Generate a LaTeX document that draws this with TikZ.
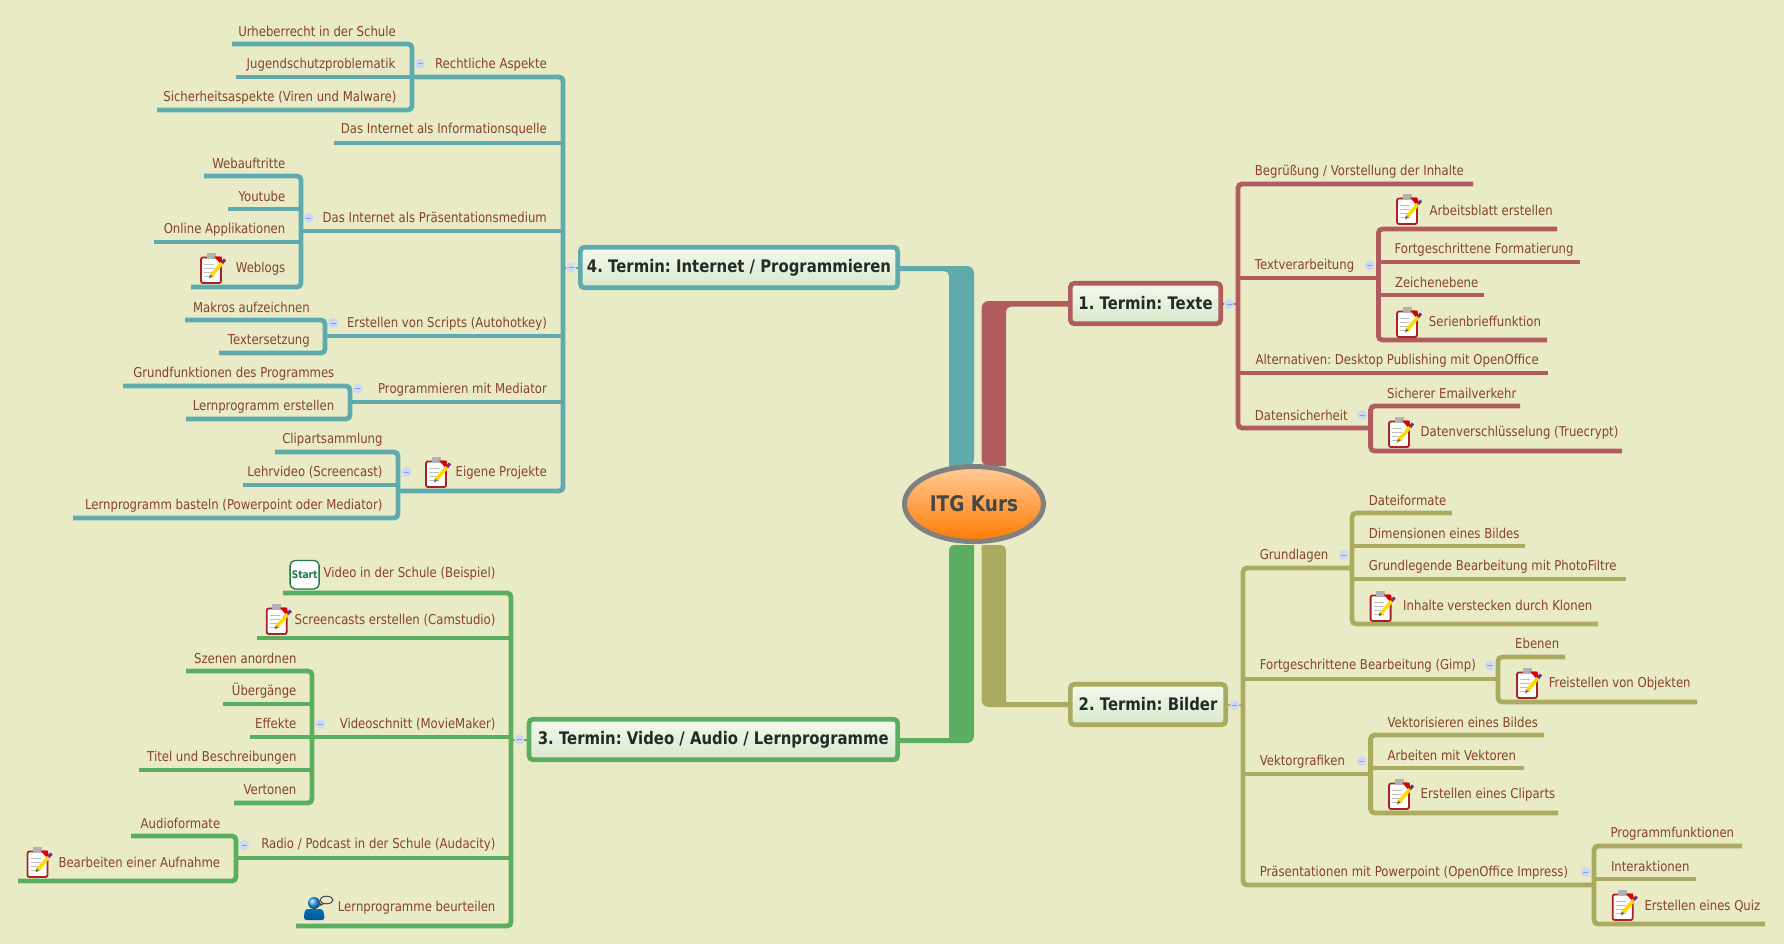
\documentclass[tikz,border=0pt]{standalone}
\usepackage{fontspec}
\usetikzlibrary{shapes.geometric}
\setmainfont{DejaVu Sans}[FakeStretch=0.86]
\definecolor{grund}{RGB}{232,235,197}
\definecolor{tuerkis}{RGB}{95,170,172}
\definecolor{rotton}{RGB}{176,92,94}
\definecolor{olivton}{RGB}{171,171,96}
\definecolor{gruenton}{RGB}{91,173,95}
\definecolor{schrift}{RGB}{138,66,42}
\definecolor{dunkel}{RGB}{32,44,40}
\definecolor{hell}{RGB}{244,249,236}
\definecolor{matt}{RGB}{216,232,204}
\definecolor{faltung}{RGB}{205,217,242}
\definecolor{faltstrich}{RGB}{130,160,220}
\definecolor{tafel}{RGB}{170,32,36}
\definecolor{startgruen}{RGB}{30,120,72}
\tikzset{
  thema/.style={text=schrift,font=\fontsize{13.6}{16}\selectfont,inner sep=0pt},
  branch/.style={line width=4.8pt,rounded corners=4pt},
  termin/.style={rectangle,rounded corners=4pt,line width=4.7pt,inner sep=0pt,
    top color=hell,bottom color=matt,text=dunkel,
    font=\fontsize{17.3}{20}\selectfont\bfseries,minimum height=40.5pt},
  fold/.style={circle,fill=faltung,minimum size=10pt,inner sep=0pt,
    path picture={\draw[faltstrich,line width=1pt]
      ([xshift=-2.5pt]path picture bounding box.center) -- ([xshift=2.5pt]path picture bounding box.center);}},
  notepad/.pic={
    \filldraw[draw=tafel,fill=white,line width=1.8pt,rounded corners=2pt] (-10,-10.5) rectangle (10,15);
    \fill[gray!60] (-4.5,-15) rectangle (4.5,-9);
    \fill[red!85!black] (3,-11.5) -- (10.5,-11.5) -- (10.5,-3) -- cycle;
    \foreach \zeile in {-4,0,4,8}
      \draw[gray!50,line width=.7pt] (-7,\zeile) -- (3,\zeile);
    \draw[orange!30!yellow,line width=3.6pt] (0,8) -- (11,-5);
    \draw[violet!70!gray,line width=3pt] (11,-5) -- (14,-8.5);
    \fill[black!60] (-2,10.5) -- (-1,6.5) -- (1.5,8.5) -- cycle;
  },
  person/.pic={
    \shade[top color=blue!35!cyan!70!black,bottom color=blue!45!cyan!60!black,rounded corners=3pt]
      (-14.5,13) -- (-13,2) -- (5,2) -- (7,13) -- cycle;
    \shade[ball color=blue!45!cyan!80!white] (-4,-4) circle (6pt);
    \draw[gray!55!black,fill=grund,line width=1pt] (8.5,-7) ellipse (6.5pt and 3.8pt);
    \draw[gray!55!black,line width=1pt] (3,-4) -- (2,-1.5) -- (6,-3.5);
  },
}
\begin{document}
\frenchspacing
\begin{tikzpicture}[x=1pt,y=-1pt] %ITG Kurs
  \useasboundingbox (0,0) rectangle (1784,944);
  \fill[grund] (0,0) rectangle (1784,944);

  \node[termin,draw=tuerkis,minimum width=317.3pt] (ter4) at (739,267.5) {4. Termin: Internet / Programmieren};
  \node[termin,draw=rotton,minimum width=150.3pt] (ter1) at (1145.5,303.5) {1. Termin: Texte};
  \node[termin,draw=olivton,minimum width=155.3pt] (ter2) at (1148,704.5) {2. Termin: Bilder};
  \node[termin,draw=gruenton,minimum width=368.6pt] (ter3) at (713.3,739.5) {3. Termin: Video / Audio / Lernprogramme};

  \fill[tuerkis] (ter4.east) ++(0,-1.5) [rounded corners=7pt] -- (974,266) -- (974,466) [sharp corners] -- (949,466)
    [rounded corners=5pt] -- (949,271) [sharp corners] -- (900,271) -- cycle;
  \fill[rotton] (ter1.west) ++(0,-2.5) [rounded corners=7pt] -- (981.5,301) -- (981.5,466) [sharp corners] -- (1006,466)
    [rounded corners=5pt] -- (1006,306.5) [sharp corners] -- (1068,306.5) -- cycle;
  \fill[gruenton] (ter3.east) ++(0,-1.5) -- (949,738) [rounded corners=5pt] -- (949,545) [sharp corners] -- (974,545)
    [rounded corners=7pt] -- (974,743) [sharp corners] -- (900,743) -- cycle;
  \fill[olivton] (ter2.west) ++(0,-2.5) -- (1006,702) [rounded corners=5pt] -- (1006,545) [sharp corners] -- (981.5,545)
    [rounded corners=7pt] -- (981.5,707) [sharp corners] -- (1068,707) -- cycle;
  \node[ellipse,draw=gray,line width=5pt,top color=orange!40!white,bottom color=orange!95!red,
    minimum width=139pt,minimum height=75pt,inner sep=0pt,text=black!72,
    font=\fontsize{21.5}{24}\selectfont\bfseries] (kurs) at (974,504) {ITG Kurs};

  % linke Seite
  \foreach \id/\xa/\yy/\xt/\dy/\txt in {
    recht/412/77/547/9/Rechtliche Aspekte, urh/232/44/396/8/Urheberrecht in der Schule,
    jug/236/77/395.5/9/Jugendschutzproblematik, sich/157/110/396.5/9/Sicherheitsaspekte (Viren und Malware),
    quel/334/143/547/10/Das Internet als Informationsquelle, praes/301/231/547/9/Das Internet als Präsentationsmedium,
    web/204/176/285.5/8/Webauftritte, you/228/209/285.5/8/Youtube, onl/154/242/285.5/9/Online Applikationen,
    wlog/191/287/285.5/15/Weblogs, scr/325/336/547/9/Erstellen von Scripts (Autohotkey),
    mak/185/320/310/8/Makros aufzeichnen, txs/219/353/310/9.5/Textersetzung,
    med/350/402/547/9.5/Programmieren mit Mediator, grf/123/386/334.5/9/Grundfunktionen des Programmes,
    lpe/186/419/334.5/9/Lernprogramm erstellen, proj/398/491/547/15/Eigene Projekte,
    clip/275/452/382.7/9/Clipartsammlung, lehr/243/485/382.7/9/Lehrvideo (Screencast),
    lpb/73/518/382.7/9/Lernprogramm basteln (Powerpoint oder Mediator),
    vid/283/593/495.6/16/Video in der Schule (Beispiel), scast/257/638/495.6/14.5/Screencasts erstellen (Camstudio),
    vsn/312/737/495.6/9/Videoschnitt (MovieMaker), sze/186/671/296.6/8.5/Szenen anordnen,
    ueb/223/704/296.6/9/Übergänge, eff/249.5/737/296.6/9/Effekte, tit/139/770/296.6/9/Titel und Beschreibungen,
    ver/234/803/296.6/9/Vertonen, rad/236/858/495.6/10/{Radio / Podcast in der Schule (Audacity)},
    aud/131/836/220.4/8.5/Audioformate, bea/18/881/220.4/14/Bearbeiten einer Aufnahme,
    lpu/296/926/495.6/15/Lernprogramme beurteilen} {
    \node[thema,anchor=base east] (\id) at (\xt,\yy-\dy+0.8) {\txt};
    \coordinate (\id E) at (\xa,\yy);
  }

  % rechte Seite
  \foreach \id/\xa/\yy/\xt/\dy/\txt in {
    beg/1473/184/1254.7/9/{Begrüßung / Vorstellung der Inhalte}, tv/1378.4/278/1254.7/9/Textverarbeitung,
    arb/1557/229/1429.4/14/Arbeitsblatt erstellen, fmt/1580/262/1394.4/9/Fortgeschrittene Formatierung,
    zei/1484/295/1394.8/8.5/Zeichenebene, ser/1547/340/1428.7/14/Serienbrieffunktion,
    alt/1548/373/1255.5/9/Alternativen: Desktop Publishing mit OpenOffice, ds/1370.6/428/1254.7/8/Datensicherheit,
    sim/1520/406/1387/8/Sicherer Emailverkehr, dv/1622/451/1420.5/15/Datenverschlüsselung (Truecrypt),
    gru/1352/568/1259.6/9.5/Grundlagen, dat/1452/513/1368.7/8/Dateiformate,
    dim/1525/546/1368.7/8/Dimensionen eines Bildes, gbp/1626/579/1368.7/9/Grundlegende Bearbeitung mit PhotoFiltre,
    inh/1598/624/1403/14/Inhalte verstecken durch Klonen, fb/1498/679/1259.6/10/Fortgeschrittene Bearbeitung (Gimp),
    ebe/1565/657/1515/9/Ebenen, fre/1697/702/1548.6/15/Freistellen von Objekten,
    vg/1370.6/774/1259.6/9/Vektorgrafiken, vek/1544/735/1387.3/8/Vektorisieren eines Bildes,
    aib/1524/768/1387.3/8.5/Arbeiten mit Vektoren, ecl/1558/813/1420.5/15/Erstellen eines Cliparts,
    pp/1594/885/1259.6/9/Präsentationen mit Powerpoint (OpenOffice Impress), pfu/1742/846/1610.4/9/Programmfunktionen,
    ita/1696/879/1610.8/8.5/Interaktionen, equ/1765/924/1644.3/14/Erstellen eines Quiz} {
    \node[thema,anchor=base west] (\id) at (\xt,\yy-\dy+0.8) {\txt};
    \coordinate (\id E) at (\xa,\yy);
  }

  % Staemme der vier Termine
  \coordinate (st4a) at (563,77);
  \coordinate (st4b) at (563,491);
  \coordinate (st3a) at (511,593);
  \coordinate (st3b) at (511,926);
  \coordinate (st1a) at (1238,184);
  \coordinate (st1b) at (1238,428);
  \coordinate (st2a) at (1243,568);
  \coordinate (st2b) at (1243,885);
  \draw[branch,tuerkis] (rechtE) -- (st4a) -- (st4b) -- (projE);
  \draw[branch,gruenton] (vidE) -- (st3a) -- (st3b) -- (lpuE);
  \draw[branch,rotton] (begE) -- (st1a) -- (st1b) -- (dsE);
  \draw[branch,olivton] (gruE) -- (st2a) -- (st2b) -- (ppE);
  \foreach \col/\kid/\stamm in {tuerkis/quel/st4a, tuerkis/praes/st4a, tuerkis/scr/st4a, tuerkis/med/st4a,
    gruenton/scast/st3a, gruenton/vsn/st3a, gruenton/rad/st3a,
    rotton/tv/st1a, rotton/alt/st1a, olivton/fb/st2a, olivton/vg/st2a}
    \draw[branch,\col] (\kid E) -- (\kid E -| \stamm);

  % Aeste mit Unterpunkten
  \foreach \col/\oben/\unten/\stamm in {tuerkis/urh/sich/recht, tuerkis/web/wlog/praes, tuerkis/mak/txs/scr,
    tuerkis/grf/lpe/med, tuerkis/clip/lpb/proj, gruenton/sze/ver/vsn, gruenton/aud/bea/rad,
    rotton/arb/ser/tv, rotton/sim/dv/ds, olivton/dat/inh/gru, olivton/ebe/fre/fb, olivton/vek/ecl/vg, olivton/pfu/equ/pp}
    \draw[branch,\col] (\oben E) -- (\oben E -| \stamm E) -- (\unten E -| \stamm E) -- (\unten E);
  \foreach \col/\kid/\stamm in {tuerkis/jug/recht, tuerkis/you/praes, tuerkis/onl/praes, tuerkis/lehr/proj,
    gruenton/ueb/vsn, gruenton/eff/vsn, gruenton/tit/vsn, rotton/fmt/tv, rotton/zei/tv,
    olivton/dim/gru, olivton/gbp/gru, olivton/aib/vg, olivton/ita/pp}
    \draw[branch,\col] (\kid E) -- (\kid E -| \stamm E);

  % Stummel zu den Terminen
  \draw[tuerkis,line width=2pt] (ter4.west) -- (ter4.west -| st4a);
  \draw[gruenton,line width=2pt] (ter3.west) -- (ter3.west -| st3a);
  \draw[rotton,line width=2pt] (ter1.east) -- (ter1.east -| st1a);
  \draw[olivton,line width=2pt] (ter2.east) -- (ter2.east -| st2a);

  \foreach \id/\xx/\yy in {f4/571/267.7, frecht/420/63.7, fpraes/308.8/218, fscr/333/323, fmed/357.8/388.7, fproj/406.4/472,
    f3/519.3/739.3, fvsn/320.3/724, frad/244/845, f1/1229/304, ftv/1369.5/265.3, fds/1362/415,
    f2/1234.6/705, fgru/1343.8/555, ffb/1489.8/665.7, fvg/1361.6/761, fpp/1585.8/872}
    \node[fold] (\id) at (\xx,\yy) {};

  \foreach \xx/\yy in {211/268, 436/472, 276.7/619, 37.5/862, 1407/209, 1407/322, 1399/432,
    1380.6/606, 1527/683, 1399/794, 1622.7/905}
    \pic at (\xx,\yy) {notepad};

  \node[rectangle,rounded corners=5pt,draw=startgruen,fill=white,line width=1.3pt,minimum width=29pt,minimum height=28.5pt,
    inner sep=0pt,text=startgruen,font=\fontsize{10.5}{12}\selectfont\bfseries] (start) at (304.6,574.7) {Start};
  \pic at (318,907) {person};
\end{tikzpicture}
\end{document}
